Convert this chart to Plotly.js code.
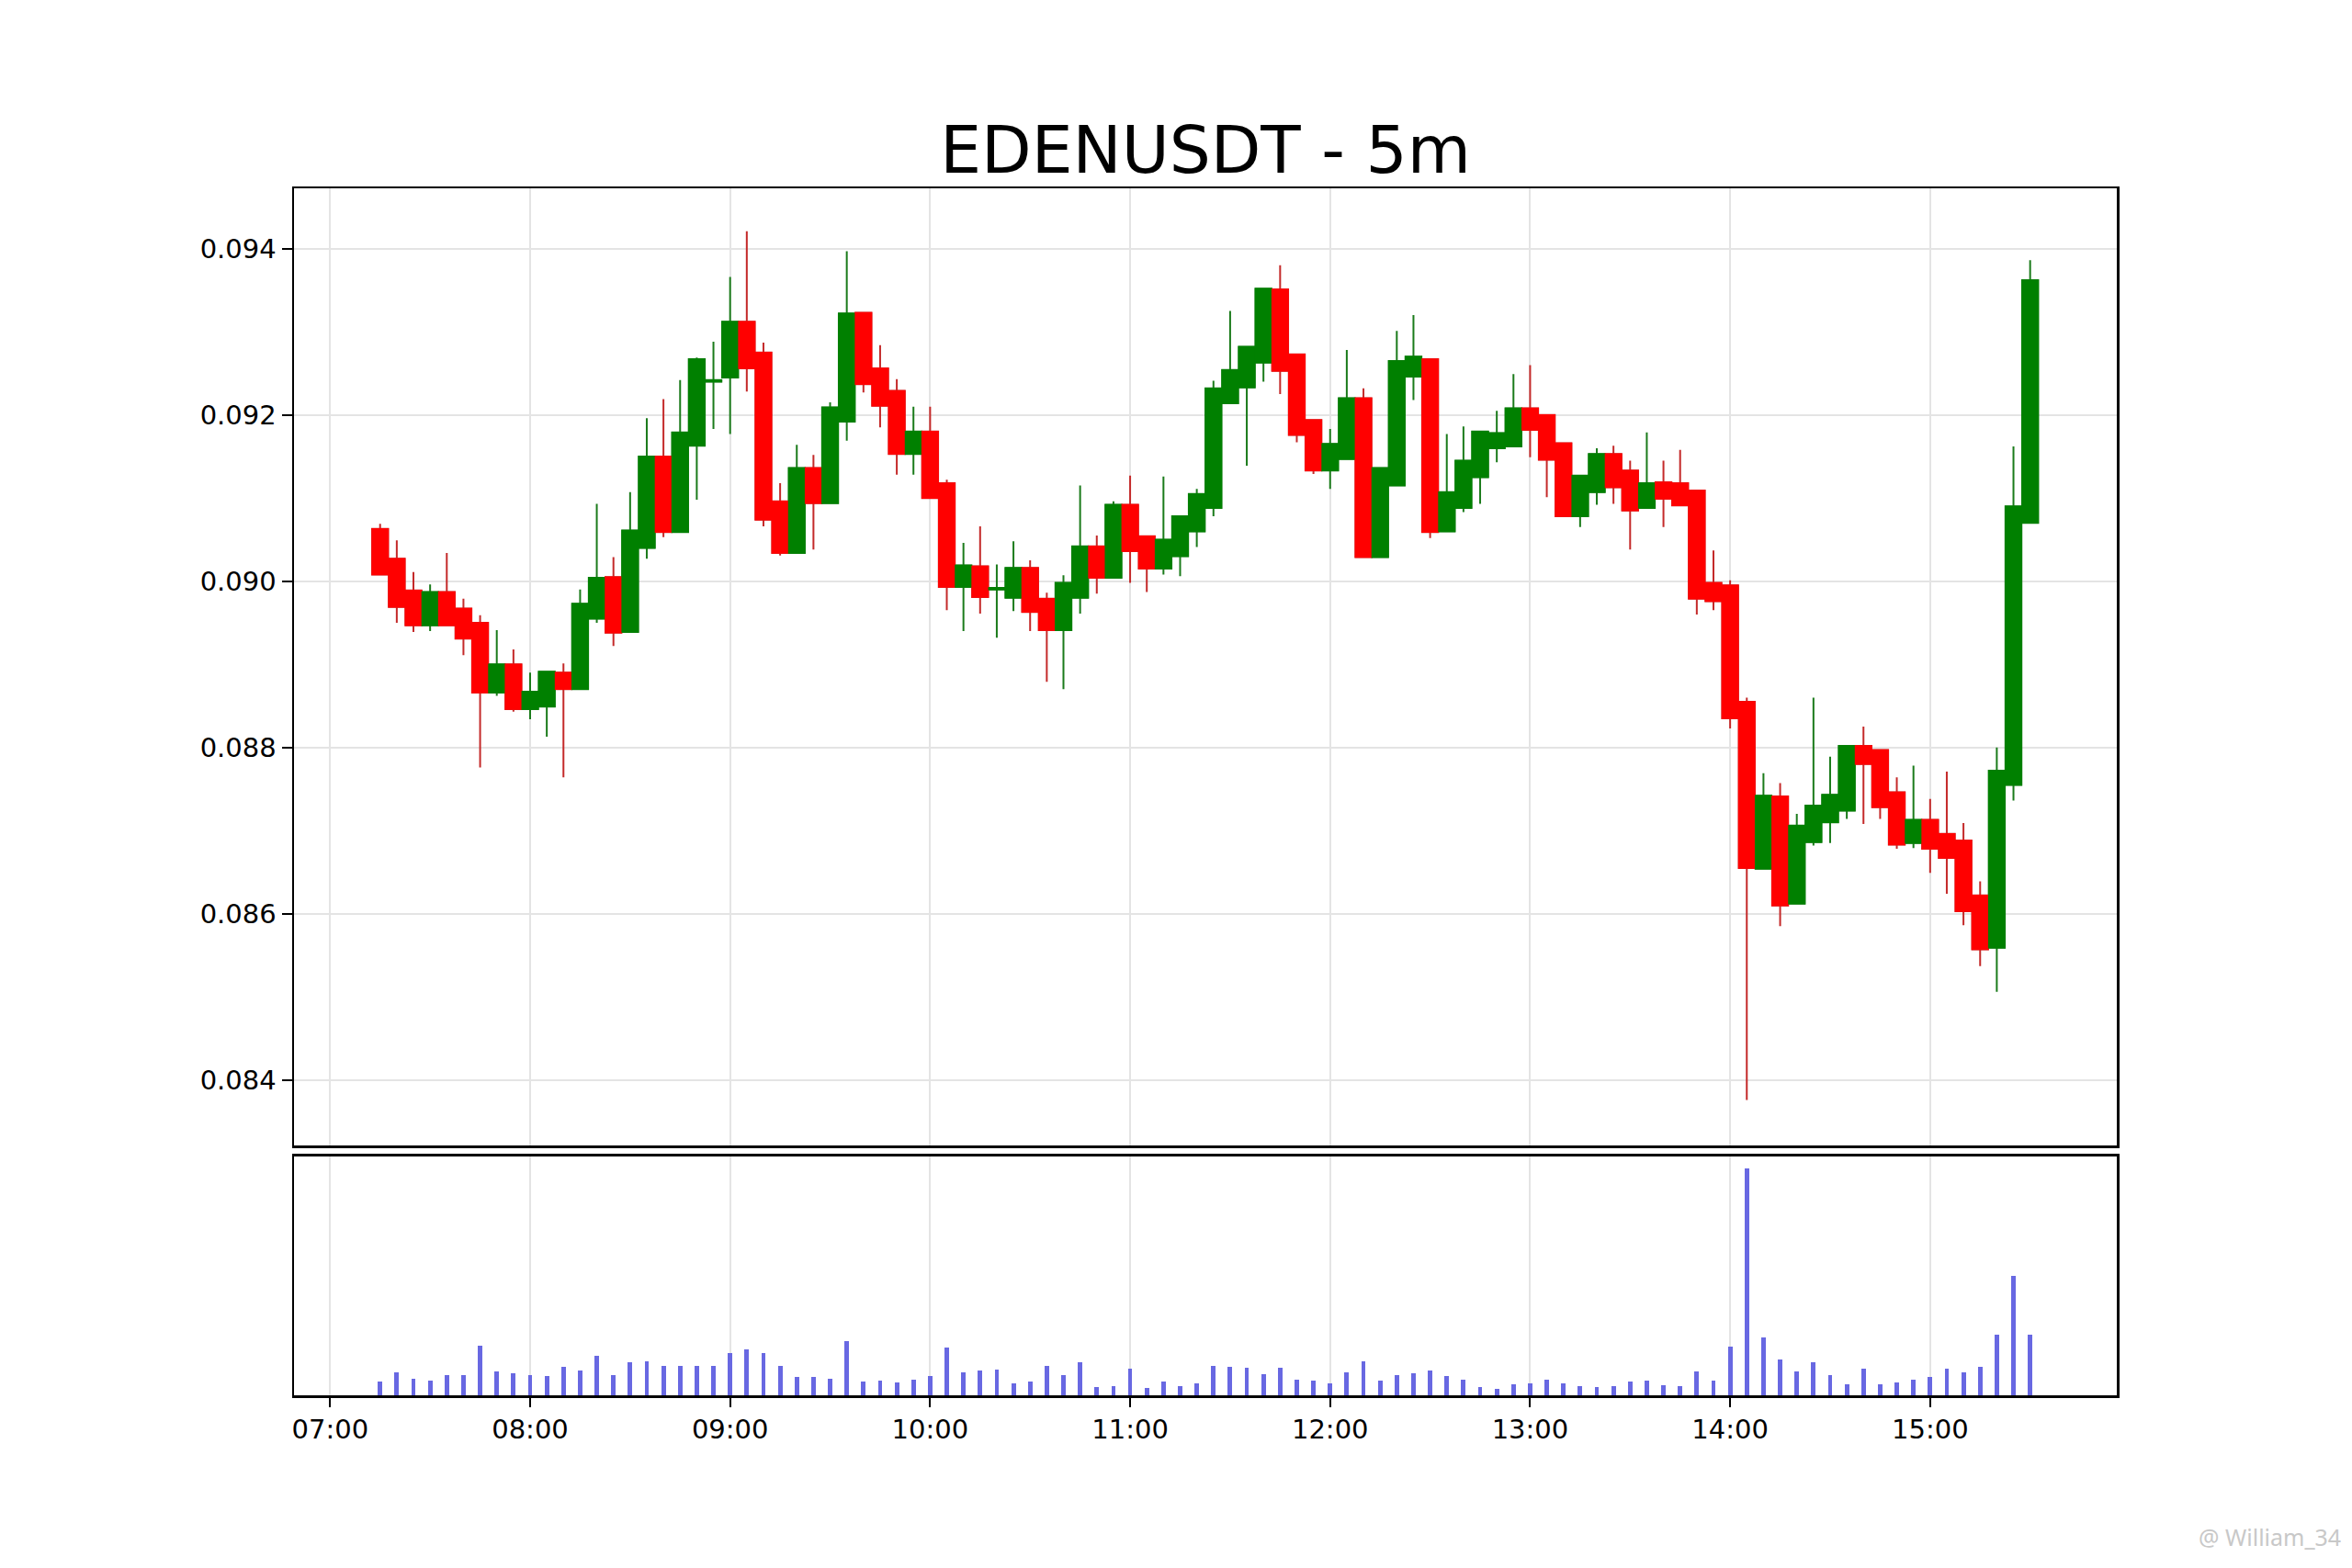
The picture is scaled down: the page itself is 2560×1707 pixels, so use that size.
<!DOCTYPE html>
<html>
<head>
<meta charset="utf-8">
<script src="https://cdn.plot.ly/plotly-3.0.1.min.js"></script>
<style>html,body{margin:0;padding:0;background:#fff;}#chart{width:2560px;height:1707px;}</style>
</head>
<body>
<div id="chart"></div>
<script>
const day = "2024-01-01 ";
const times = [
"07:15","07:20","07:25","07:30","07:35","07:40","07:45","07:50","07:55",
"08:00","08:05","08:10","08:15","08:20","08:25","08:30","08:35","08:40","08:45","08:50","08:55",
"09:00","09:05","09:10","09:15","09:20","09:25","09:30","09:35","09:40","09:45","09:50","09:55",
"10:00","10:05","10:10","10:15","10:20","10:25","10:30","10:35","10:40","10:45","10:50","10:55",
"11:00","11:05","11:10","11:15","11:20","11:25","11:30","11:35","11:40","11:45","11:50","11:55",
"12:00","12:05","12:10","12:15","12:20","12:25","12:30","12:35","12:40","12:45","12:50","12:55",
"13:00","13:05","13:10","13:15","13:20","13:25","13:30","13:35","13:40","13:45","13:50","13:55",
"14:00","14:05","14:10","14:15","14:20","14:25","14:30","14:35","14:40","14:45","14:50","14:55",
"15:00","15:05","15:10","15:15","15:20","15:25","15:30"];

const openP = [
0.09063,0.09027,0.08989,0.08947,0.08987,0.08967,0.08950,0.08866,0.08900,0.08846,
0.08849,0.08890,0.08870,0.08955,0.09005,0.08939,0.09040,0.09150,0.09059,0.09163,
0.09240,0.09245,0.09312,0.09275,0.09096,0.09034,0.09136,0.09094,0.09192,0.09323,
0.09256,0.09229,0.09153,0.09180,0.09118,0.08993,0.09018,0.08990,0.08980,0.09016,
0.08979,0.08941,0.08980,0.09042,0.09004,0.09092,0.09054,0.09015,0.09030,0.09060,
0.09088,0.09214,0.09233,0.09263,0.09351,0.09273,0.09194,0.09133,0.09147,0.09220,
0.09029,0.09115,0.09246,0.09267,0.09060,0.09088,0.09125,0.09160,0.09162,0.09208,
0.09200,0.09166,0.09078,0.09107,0.09153,0.09133,0.09088,0.09119,0.09118,0.09109,
0.08998,0.08995,0.08855,0.08654,0.08741,0.08612,0.08686,0.08710,0.08724,0.08802,
0.08797,0.08746,0.08685,0.08713,0.08696,0.08688,0.08622,0.08559,0.08755,0.09070];
const highP = [
0.09069,0.09049,0.09011,0.08996,0.09034,0.08979,0.08959,0.08941,0.08918,0.08890,
0.08891,0.08901,0.08990,0.09093,0.09029,0.09107,0.09196,0.09219,0.09242,0.09269,
0.09288,0.09366,0.09421,0.09287,0.09118,0.09164,0.09152,0.09215,0.09397,0.09324,
0.09284,0.09243,0.09210,0.09210,0.09122,0.09046,0.09066,0.09020,0.09048,0.09025,
0.08986,0.09007,0.09115,0.09055,0.09096,0.09127,0.09054,0.09126,0.09078,0.09111,
0.09241,0.09325,0.09282,0.09352,0.09380,0.09273,0.09194,0.09183,0.09278,0.09232,
0.09136,0.09301,0.09320,0.09267,0.09177,0.09186,0.09180,0.09205,0.09249,0.09260,
0.09200,0.09166,0.09127,0.09160,0.09163,0.09145,0.09179,0.09145,0.09158,0.09109,
0.09037,0.09001,0.08860,0.08769,0.08757,0.08720,0.08860,0.08789,0.08802,0.08825,
0.08797,0.08764,0.08778,0.08738,0.08771,0.08709,0.08639,0.08800,0.09162,0.09386];
const lowP = [
0.09008,0.08950,0.08939,0.08940,0.08947,0.08911,0.08776,0.08862,0.08843,0.08834,
0.08813,0.08764,0.08870,0.08950,0.08922,0.08939,0.09027,0.09053,0.09059,0.09098,
0.09183,0.09177,0.09228,0.09066,0.09031,0.09034,0.09038,0.09094,0.09169,0.09227,
0.09185,0.09128,0.09128,0.09100,0.08965,0.08940,0.08961,0.08932,0.08964,0.08940,
0.08879,0.08870,0.08961,0.08985,0.09004,0.08998,0.08987,0.09008,0.09006,0.09041,
0.09078,0.09214,0.09139,0.09240,0.09225,0.09167,0.09129,0.09111,0.09147,0.09029,
0.09029,0.09115,0.09218,0.09052,0.09060,0.09083,0.09093,0.09143,0.09162,0.09149,
0.09101,0.09078,0.09065,0.09092,0.09093,0.09038,0.09088,0.09065,0.09091,0.08960,
0.08965,0.08823,0.08376,0.08654,0.08585,0.08612,0.08682,0.08685,0.08714,0.08708,
0.08714,0.08678,0.08679,0.08649,0.08624,0.08586,0.08537,0.08506,0.08736,0.09070];
const closeP = [
0.09008,0.08969,0.08947,0.08987,0.08947,0.08931,0.08866,0.08900,0.08846,0.08867,
0.08891,0.08870,0.08973,0.09004,0.08938,0.09061,0.09150,0.09059,0.09179,0.09267,
0.09242,0.09312,0.09256,0.09074,0.09034,0.09136,0.09094,0.09209,0.09322,0.09237,
0.09211,0.09153,0.09180,0.09100,0.08993,0.09019,0.08981,0.08992,0.09016,0.08963,
0.08941,0.08998,0.09042,0.09004,0.09092,0.09036,0.09015,0.09050,0.09078,0.09105,
0.09232,0.09254,0.09282,0.09352,0.09253,0.09176,0.09133,0.09165,0.09220,0.09029,
0.09136,0.09265,0.09270,0.09059,0.09107,0.09145,0.09180,0.09178,0.09208,0.09182,
0.09146,0.09078,0.09127,0.09153,0.09113,0.09085,0.09118,0.09099,0.09091,0.08979,
0.08976,0.08835,0.08655,0.08742,0.08610,0.08706,0.08730,0.08743,0.08802,0.08780,
0.08728,0.08683,0.08713,0.08678,0.08667,0.08603,0.08557,0.08772,0.09090,0.09362];
const volume = [
45,76,55,49,66,67,162,79,73,66,
64,94,82,130,67,109,112,97,97,96,
96,139,151,139,97,60,59,55,177,45,
49,43,52,64,157,76,81,85,40,45,
97,67,109,28,30,87,25,45,30,40,
97,94,90,70,90,51,48,40,74,110,
48,67,72,81,63,50,27,21,37,40,
50,40,30,27,29,46,48,33,30,78,
48,160,742,190,118,78,108,65,36,87,
37,42,52,59,87,74,93,198,390,198];

const tickVals = ["07:00","08:00","09:00","10:00","11:00","12:00","13:00","14:00","15:00"];
const priceTicks = [0.084,0.086,0.088,0.090,0.092,0.094];

const x = times.map(t => day + t);
const hourVals = tickVals.map(t => day + t);
const bodyHigh = openP.map((o,i) => Math.max(o, closeP[i]));
const bodyLow = openP.map((o,i) => Math.min(o, closeP[i]));

const wicks = {
  type: 'candlestick', x: x, open: openP, high: highP, low: lowP, close: closeP,
  xaxis: 'x', yaxis: 'y', hoverinfo: 'skip', whiskerwidth: 0,
  increasing: {line: {color: '#1b7b1b', width: 2}, fillcolor: '#008000'},
  decreasing: {line: {color: '#c42a2a', width: 2}, fillcolor: '#ff0000'},
  showlegend: false
};
const bodies = {
  type: 'candlestick', x: x, open: openP, high: bodyHigh, low: bodyLow, close: closeP,
  xaxis: 'x', yaxis: 'y', hoverinfo: 'skip', whiskerwidth: 0,
  increasing: {line: {color: '#008000', width: 1.5}, fillcolor: '#008000'},
  decreasing: {line: {color: '#ff0000', width: 1.5}, fillcolor: '#ff0000'},
  showlegend: false
};
const vol = {
  type: 'bar', x: x, y: volume, xaxis: 'x2', yaxis: 'y2',
  width: 80000, marker: {color: '#6868e2', line: {width: 0}},
  hoverinfo: 'skip', showlegend: false
};

const xr = [day + "06:49:10", day + "15:56:00"];
const font = {family: 'DejaVu Sans, sans-serif', size: 29, color: '#000'};

const layout = {
  width: 2560, height: 1707,
  margin: {l: 320, r: 256, t: 205, b: 188, pad: 0},
  paper_bgcolor: '#fff', plot_bgcolor: '#fff',
  font: font,
  boxmode: 'overlay', boxgap: 0.04, boxgroupgap: 0,
  bargap: 0,
  title: {text: 'EDENUSDT - 5m', x: 0.5, xref: 'paper', xanchor: 'center',
          y: 1 - 163/1707, yref: 'container', yanchor: 'middle',
          font: {family: 'DejaVu Sans, sans-serif', size: 71, color: '#000'}},
  xaxis: {
    domain: [0, 1], anchor: 'y', type: 'date', range: xr,
    tickvals: hourVals, ticktext: tickVals, showticklabels: false, ticks: '',
    showgrid: true, gridcolor: '#e4e4e4', gridwidth: 2,
    showline: true, mirror: true, linecolor: '#000', linewidth: 2.5,
    rangeslider: {visible: false}, zeroline: false, fixedrange: true
  },
  yaxis: {
    domain: [0.207, 1], anchor: 'x', range: [0.083212, 0.094726],
    tickvals: priceTicks, tickformat: '.3f', ticks: 'outside', ticklen: 11, tickwidth: 2, tickcolor: '#000',
    showgrid: true, gridcolor: '#e4e4e4', gridwidth: 2,
    showline: true, mirror: true, linecolor: '#000', linewidth: 2.5, zeroline: false,
    tickfont: font
  },
  xaxis2: {
    domain: [0, 1], anchor: 'y2', type: 'date', range: xr,
    tickvals: hourVals, ticktext: tickVals, ticks: 'outside', ticklen: 10, tickwidth: 2, tickcolor: '#000',
    showgrid: true, gridcolor: '#e4e4e4', gridwidth: 2,
    showline: true, mirror: true, linecolor: '#000', linewidth: 2.5, zeroline: false,
    tickfont: font, rangeslider: {visible: false}
  },
  yaxis2: {
    domain: [0, 0.1979], anchor: 'x2', range: [0, 780],
    showticklabels: false, ticks: '', showgrid: false,
    showline: true, mirror: true, linecolor: '#000', linewidth: 2.5, zeroline: false
  },
  annotations: [{
    text: '@ William_34', xref: 'paper', yref: 'paper',
    x: (2550 - 320) / 1984, y: (1519 - 1673) / 1314, xanchor: 'right', yanchor: 'middle',
    showarrow: false, font: {family: 'Noto Sans, sans-serif', size: 25, color: '#c8c8c8'}
  }]
};

Plotly.newPlot('chart', [wicks, bodies, vol], layout, {staticPlot: true, displayModeBar: false});
</script>
</body>
</html>
